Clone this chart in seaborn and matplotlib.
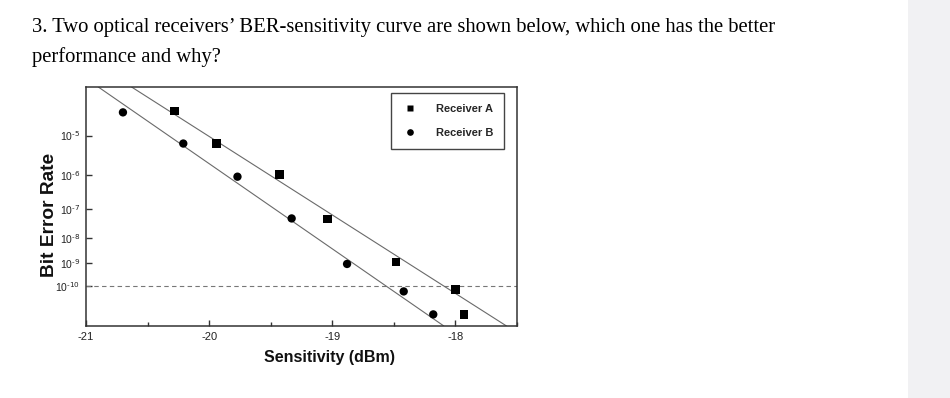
import numpy as np
import pandas as pd
import matplotlib
matplotlib.use('Agg')
import matplotlib.pyplot as plt
import seaborn as sns
from matplotlib.ticker import FixedLocator, NullLocator, MultipleLocator
from matplotlib.patches import Rectangle

# --- data ---
sens_a = [-20.28, -19.94, -19.43, -19.04, -18.48, -18.00, -17.93]
ber_a = [3.4e-5, 6.5e-6, 1.05e-6, 4.5e-8, 1.15e-9, 7.2e-11, 4.2e-12]
sens_b = [-20.70, -20.21, -19.77, -19.33, -18.88, -18.42, -18.18]
ber_b = [3.2e-5, 6.5e-6, 9.1e-7, 4.8e-8, 9.5e-10, 5.8e-11, 4.2e-12]

# fitted straight lines (end points)
fit_a_sens = [-20.63, -17.585]
fit_a_ber = [1e-4, 1e-12]
fit_b_sens = [-20.90, -18.094]
fit_b_ber = [1e-4, 1e-12]

ref_ber = 1e-10
ytick_vals = [1e-5, 1e-6, 1e-7, 1e-8, 1e-9, 1e-10]
ytick_labels = [r'10$^{\text{-5}}$', r'10$^{\text{-6}}$', r'10$^{\text{-7}}$',
                r'10$^{\text{-8}}$', r'10$^{\text{-9}}$', r'10$^{\text{-10}}$']
xtick_vals = [-21, -20, -19, -18]

question_1 = "3. Two optical receivers\u2019 BER-sensitivity curve are shown below, which one has the better"
question_2 = "performance and why?"

df = pd.DataFrame({
    'sens': sens_a + sens_b,
    'ber': ber_a + ber_b,
    'receiver': ['Receiver A'] * len(sens_a) + ['Receiver B'] * len(sens_b),
})

sns.set_style('ticks')
plt.rcParams['font.family'] = ['Liberation Sans', 'DejaVu Sans']
plt.rcParams['mathtext.default'] = 'regular'


# BER axis: -log10(-log10(BER)), the usual "erfc" style BER scale
def ber_fwd(y):
    y = np.clip(np.asarray(y, dtype=float), 1e-300, 0.999999)
    return -np.log10(-np.log10(y))


def ber_inv(t):
    return 10.0 ** (-(10.0 ** (-np.asarray(t, dtype=float))))


fig = plt.figure(figsize=(9.5, 3.98), dpi=100)
fig.patch.set_facecolor('white')
# grey side panel of the page
fig.patches.append(Rectangle((908 / 950, 0), 42 / 950, 1, transform=fig.transFigure,
                             facecolor='#f1f1f3', edgecolor='none', zorder=0))

ax = fig.add_axes([86 / 950, 72 / 398, 431 / 950, 239 / 398])

sns.scatterplot(data=df, x='sens', y='ber', hue='receiver', style='receiver',
                markers={'Receiver A': 's', 'Receiver B': 'o'},
                palette={'Receiver A': 'black', 'Receiver B': 'black'},
                s=36, edgecolor='none', ax=ax, zorder=3, legend=True)

ax.plot(fit_a_sens, fit_a_ber, color='#6a6a6a', lw=0.8, zorder=2)
ax.plot(fit_b_sens, fit_b_ber, color='#6a6a6a', lw=0.8, zorder=2)
ax.axhline(ref_ber, color='#777777', lw=0.8, ls=(0, (4, 3)), zorder=1)

ax.set_yscale('function', functions=(ber_fwd, ber_inv))
ax.set_ylim(1e-12, 1e-4)
ax.set_xlim(-21, -17.5)

ax.yaxis.set_major_locator(FixedLocator(ytick_vals))
ax.set_yticklabels(ytick_labels)
ax.yaxis.set_minor_locator(NullLocator())
ax.set_xticks(xtick_vals)
ax.set_xticklabels([str(v) for v in xtick_vals])
ax.xaxis.set_minor_locator(MultipleLocator(0.5))

ax.tick_params(axis='both', which='major', direction='in', length=4, width=1,
               color='#333333', labelsize=8, labelcolor='#222222')
ax.tick_params(axis='x', which='minor', direction='in', length=3, width=1, color='#333333')
ax.tick_params(axis='x', which='major', pad=4)
ax.tick_params(axis='y', which='major', pad=4, labelsize=7.5)

for sp in ax.spines.values():
    sp.set_color('#333333')
    sp.set_linewidth(1.1)

ax.set_xlabel('Sensitivity (dBm)', fontsize=11.5, fontweight='bold', color='#111111')
ax.set_ylabel('Bit Error Rate', fontsize=13.8, fontweight='bold', color='#111111')
ax.xaxis.set_label_coords(0.566, -0.1)
ax.yaxis.set_label_coords(-0.064, 0.464)

handles, labels = ax.get_legend_handles_labels()
leg = ax.legend(handles=handles, labels=labels, loc='upper right',
                bbox_to_anchor=(0.97, 0.975), borderaxespad=0, frameon=True,
                fancybox=False, framealpha=1, edgecolor='#444444',
                prop={'size': 8, 'weight': 'bold'}, markerscale=0.8,
                borderpad=1.0, labelspacing=1.25, handlelength=1.4, handletextpad=1.6)
leg.get_frame().set_linewidth(1.0)

fig.text(32 / 950, 1 - 32 / 398, question_1, fontsize=14.9, family='Liberation Serif',
         va='baseline', ha='left', color='black')
fig.text(32 / 950, 1 - 62 / 398, question_2, fontsize=14.9, family='Liberation Serif',
         va='baseline', ha='left', color='black')

fig.savefig('out.png', dpi=100)
